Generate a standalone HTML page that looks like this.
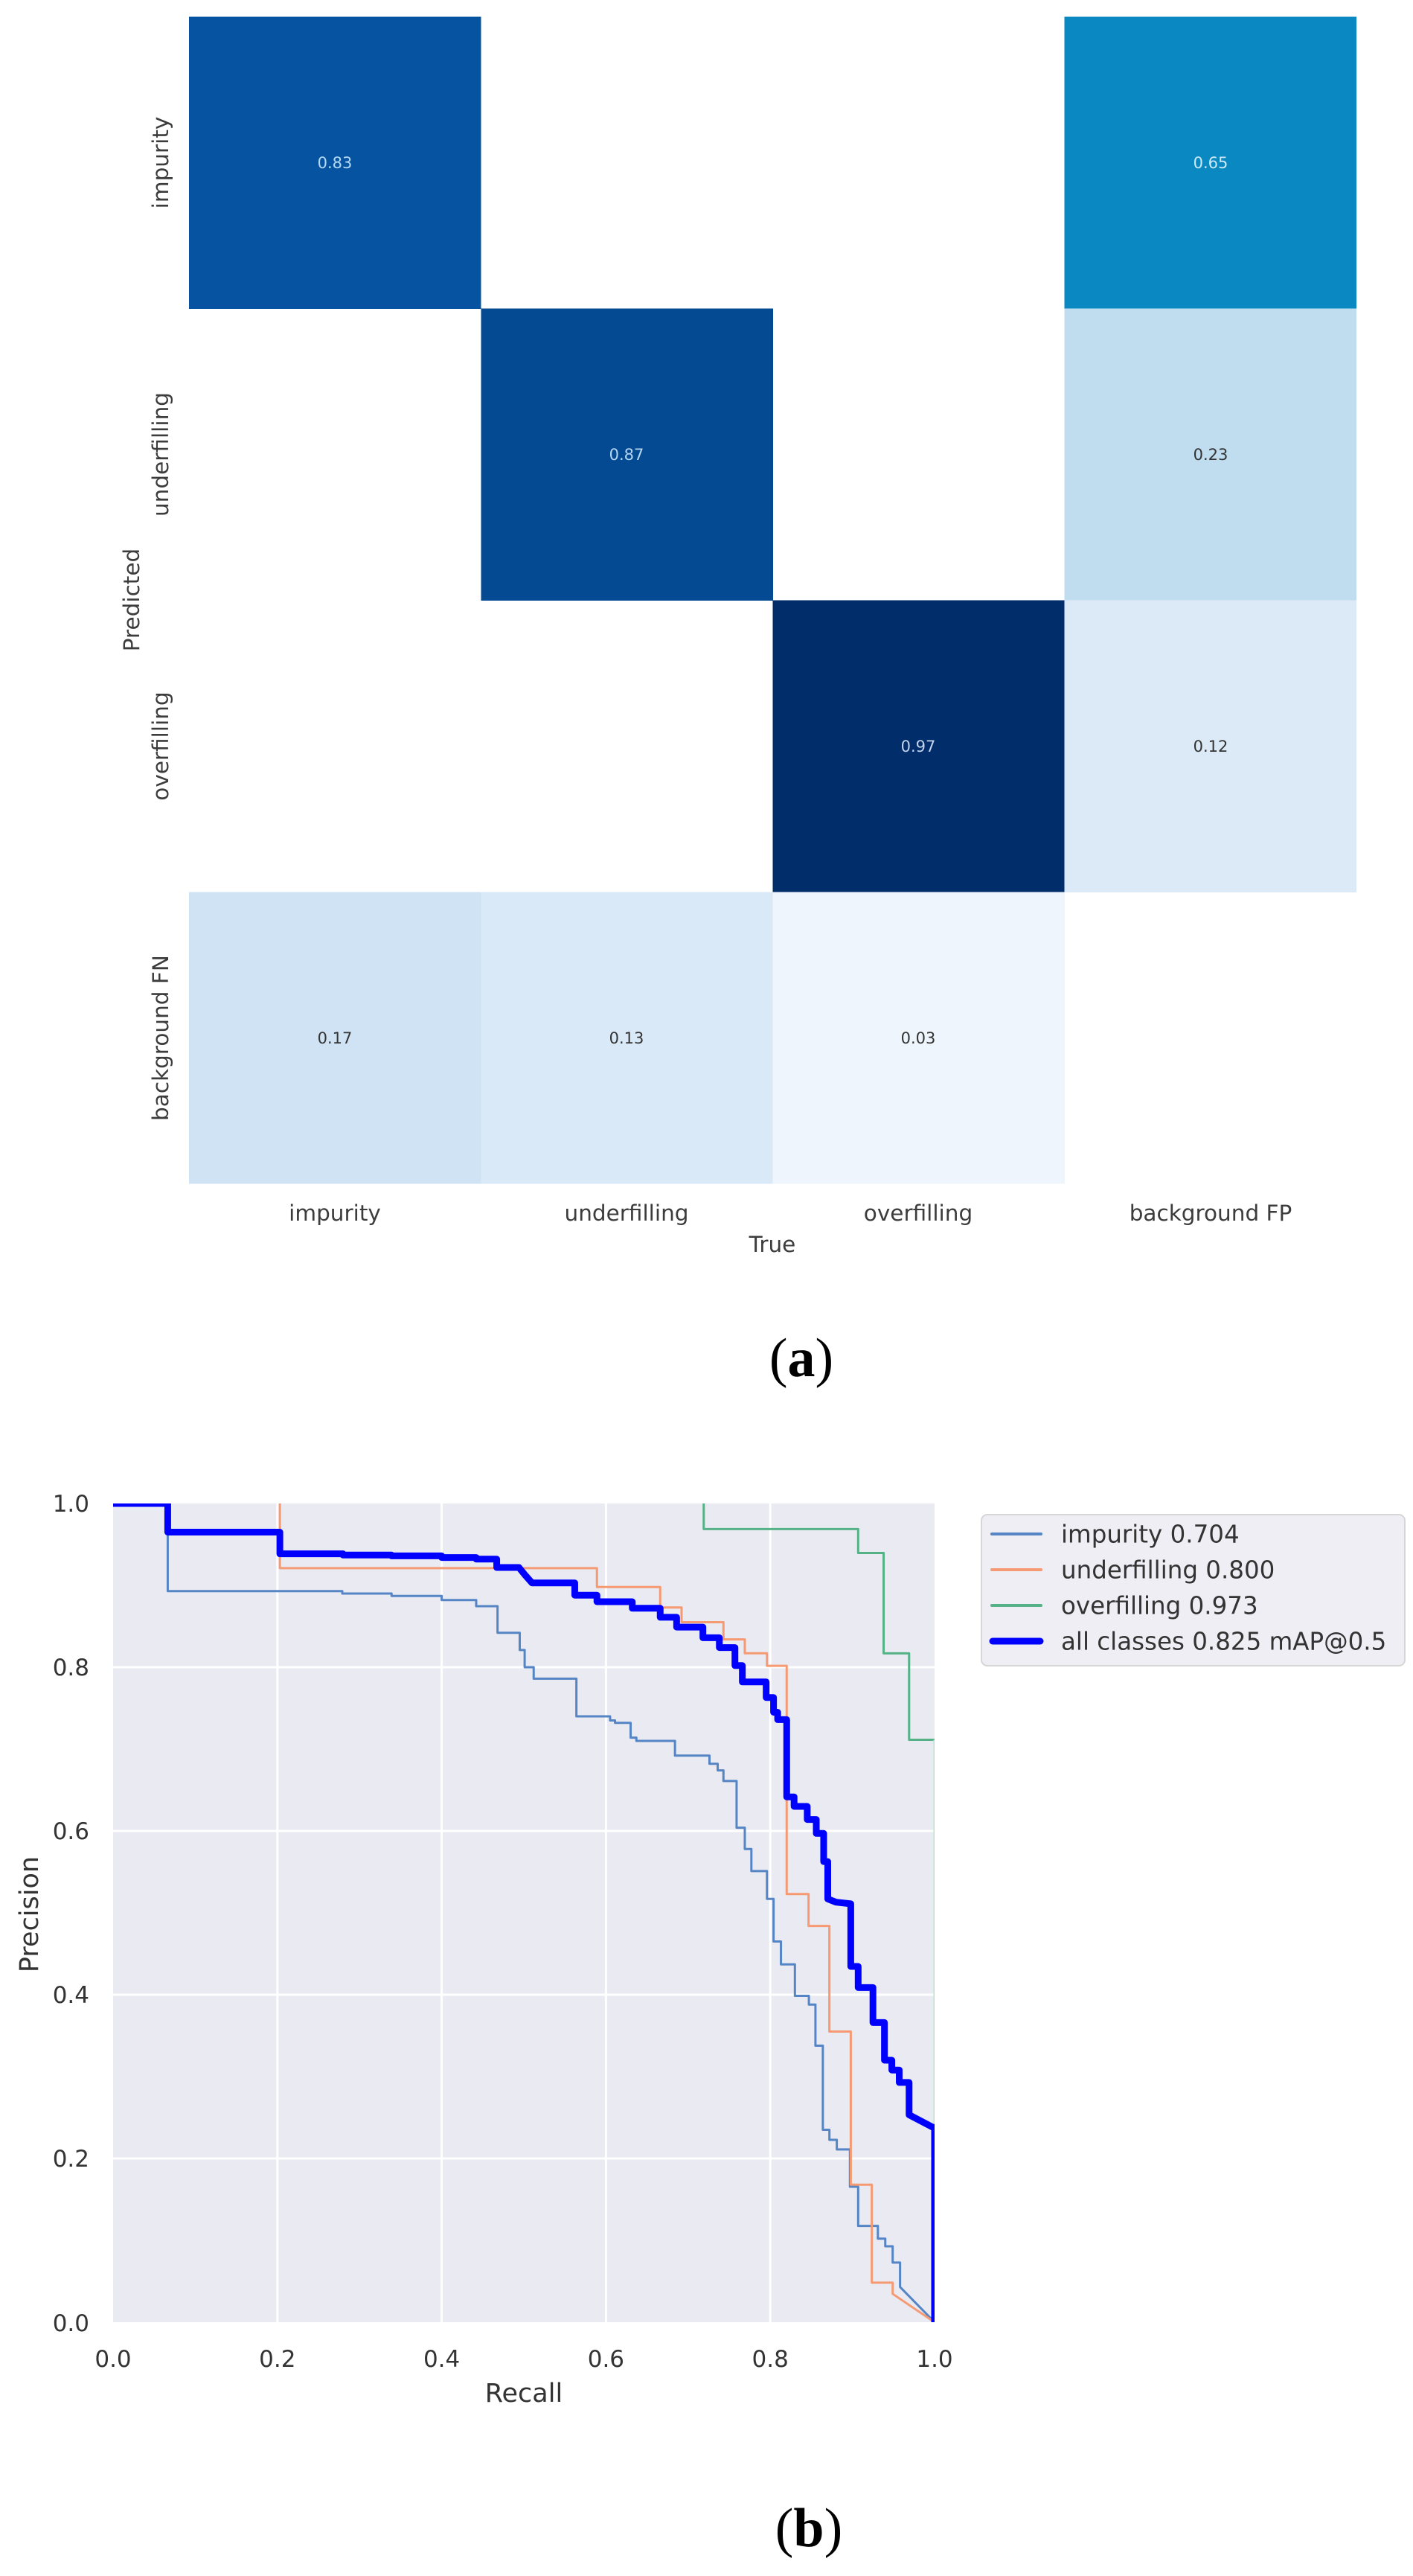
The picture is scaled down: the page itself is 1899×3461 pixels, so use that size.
<!DOCTYPE html>
<html>
<head>
<meta charset="utf-8">
<style>
html,body{margin:0;padding:0;background:#fff;}
svg{display:block;}
text{font-family:"DejaVu Sans","Liberation Sans",sans-serif;}
</style>
</head>
<body>
<svg width="1899" height="3461" viewBox="0 0 1899 3461" xmlns="http://www.w3.org/2000/svg">
<rect x="0" y="0" width="1899" height="3461" fill="#ffffff"/>

<!-- ===== (a) Confusion matrix ===== -->
<g>
  <!-- row 0 -->
  <rect x="254" y="22.5" width="392.5" height="392.5" fill="#0653a2"/>
  <rect x="1430.5" y="22.5" width="392.5" height="392.5" fill="#0a88c1"/>
  <!-- row 1 -->
  <rect x="646.5" y="414.5" width="392.5" height="392.5" fill="#034a93"/>
  <rect x="1430.5" y="414.5" width="392.5" height="392.5" fill="#c0ddf0"/>
  <!-- row 2 -->
  <rect x="1038.5" y="806.5" width="392.5" height="392.5" fill="#022d6b"/>
  <rect x="1430.5" y="806.5" width="392.5" height="392.5" fill="#dce9f7"/>
  <!-- row 3 -->
  <rect x="254" y="1198.5" width="392.5" height="392" fill="#cfe3f4"/>
  <rect x="646.5" y="1198.5" width="392.5" height="392" fill="#d9e9f7"/>
  <rect x="1038.5" y="1198.5" width="392.5" height="392" fill="#eef5fd"/>

  <g font-size="21" text-anchor="middle">
    <text x="450" y="226" fill="#b4daf4">0.83</text>
    <text x="1627" y="226" fill="#cde9f7">0.65</text>
    <text x="842" y="618" fill="#b4d6f2">0.87</text>
    <text x="1627" y="618" fill="#333">0.23</text>
    <text x="1234" y="1010" fill="#c2d4ee">0.97</text>
    <text x="1627" y="1010" fill="#333">0.12</text>
    <text x="450" y="1402" fill="#333">0.17</text>
    <text x="842" y="1402" fill="#333">0.13</text>
    <text x="1234" y="1402" fill="#333">0.03</text>
  </g>

  <g font-size="29.5" fill="#3c3c3c" text-anchor="middle">
    <text x="450" y="1640">impurity</text>
    <text x="842" y="1640">underfilling</text>
    <text x="1234" y="1640">overfilling</text>
    <text x="1627" y="1640">background FP</text>
    <text x="1038" y="1682">True</text>
    <text transform="translate(226,218.5) rotate(-90)">impurity</text>
    <text transform="translate(226,610.5) rotate(-90)">underfilling</text>
    <text transform="translate(226,1002.5) rotate(-90)">overfilling</text>
    <text transform="translate(226,1394.5) rotate(-90)">background FN</text>
    <text transform="translate(187,806) rotate(-90)">Predicted</text>
  </g>
</g>

<!-- (a) caption -->
<text x="1077" y="1849" text-anchor="middle" font-size="74" fill="#000" style="font-family:'Liberation Serif',serif;">(<tspan font-weight="bold">a</tspan>)</text>

<!-- ===== (b) PR curve ===== -->
<g>
  <rect x="152" y="2020" width="1104" height="1100" fill="#eaeaf2"/>
  <!-- grid -->
  <g stroke="#ffffff" stroke-width="3">
    <line x1="372.8" y1="2020" x2="372.8" y2="3120"/>
    <line x1="593.6" y1="2020" x2="593.6" y2="3120"/>
    <line x1="814.4" y1="2020" x2="814.4" y2="3120"/>
    <line x1="1035.2" y1="2020" x2="1035.2" y2="3120"/>
    <line x1="152" y1="2240" x2="1256" y2="2240"/>
    <line x1="152" y1="2460" x2="1256" y2="2460"/>
    <line x1="152" y1="2680" x2="1256" y2="2680"/>
    <line x1="152" y1="2900" x2="1256" y2="2900"/>
  </g>

  <defs>
    <clipPath id="ax"><rect x="152" y="2020" width="1104" height="1100"/></clipPath>
  </defs>

  <g clip-path="url(#ax)">
    <g transform="translate(152,3120) scale(1104,-1100)" fill="none" stroke-linejoin="round">
      <!-- impurity -->
      <polyline vector-effect="non-scaling-stroke" stroke="#5585c4" stroke-width="3"
        points="0,1 0.0665,1 0.0665,0.893 0.279,0.893 0.279,0.890 0.339,0.890 0.339,0.887 0.400,0.887 0.400,0.882 0.442,0.882 0.442,0.8745 0.468,0.8745 0.468,0.842 0.495,0.842 0.495,0.821 0.501,0.821 0.501,0.800 0.512,0.800 0.512,0.786 0.564,0.786 0.564,0.740 0.605,0.740 0.605,0.735 0.611,0.735 0.611,0.732 0.630,0.732 0.630,0.714 0.637,0.714 0.637,0.710 0.684,0.710 0.684,0.692 0.726,0.692 0.726,0.682 0.736,0.682 0.736,0.674 0.743,0.674 0.743,0.661 0.759,0.661 0.759,0.604 0.769,0.604 0.769,0.578 0.777,0.578 0.777,0.551 0.796,0.551 0.796,0.517 0.804,0.517 0.804,0.465 0.813,0.465 0.813,0.437 0.830,0.437 0.830,0.3986 0.847,0.3986 0.847,0.388 0.855,0.388 0.855,0.3377 0.864,0.3377 0.864,0.235 0.872,0.235 0.872,0.2227 0.881,0.2227 0.881,0.211 0.897,0.211 0.897,0.1655 0.907,0.1655 0.907,0.1176 0.931,0.1176 0.931,0.102 0.940,0.102 0.940,0.0927 0.949,0.0927 0.949,0.0728 0.958,0.0728 0.958,0.043 1,0"/>
      <!-- underfilling -->
      <polyline vector-effect="non-scaling-stroke" stroke="#f59a72" stroke-width="3"
        points="0.203,1 0.203,0.921 0.589,0.921 0.589,0.898 0.666,0.898 0.666,0.873 0.692,0.873 0.692,0.855 0.743,0.855 0.743,0.834 0.769,0.834 0.769,0.817 0.796,0.817 0.796,0.8017 0.820,0.8017 0.820,0.523 0.8466,0.523 0.8466,0.484 0.872,0.484 0.872,0.355 0.898,0.355 0.898,0.168 0.9236,0.168 0.9236,0.0483 0.949,0.0483 0.949,0.0346 1,0"/>
      <!-- overfilling -->
      <polyline vector-effect="non-scaling-stroke" stroke="#55b286" stroke-width="3"
        points="0.719,1 0.719,0.9688 0.907,0.9688 0.907,0.9396 0.938,0.9396 0.938,0.8169 0.969,0.8169 0.969,0.7114 1.0,0.7114"/>
      <polyline vector-effect="non-scaling-stroke" stroke="#b7e2cc" stroke-width="3"
        points="1.0,0.7114 1.0,0"/>
      <!-- all classes -->
      <polyline vector-effect="non-scaling-stroke" stroke="#0000ff" stroke-width="9" stroke-linecap="square"
        points="0,1 0.0665,1 0.0665,0.965 0.203,0.965 0.203,0.9385 0.28,0.9385 0.28,0.937 0.339,0.937 0.339,0.936 0.40,0.936 0.40,0.934 0.442,0.934 0.442,0.932 0.467,0.932 0.467,0.9218 0.494,0.9218 0.502,0.912 0.510,0.903 0.562,0.903 0.562,0.888 0.589,0.888 0.589,0.880 0.632,0.880 0.632,0.872 0.666,0.872 0.666,0.861 0.686,0.861 0.686,0.849 0.718,0.849 0.718,0.836 0.738,0.836 0.738,0.824 0.757,0.824 0.757,0.802 0.766,0.802 0.766,0.782 0.795,0.782 0.795,0.763 0.804,0.763 0.804,0.745 0.809,0.745 0.809,0.736 0.820,0.736 0.820,0.6416 0.829,0.6416 0.829,0.630 0.845,0.630 0.845,0.614 0.856,0.614 0.856,0.597 0.865,0.597 0.865,0.5626 0.870,0.5626 0.870,0.517 0.88,0.513 0.898,0.511 0.898,0.4345 0.907,0.4345 0.907,0.4088 0.925,0.4088 0.925,0.366 0.939,0.366 0.939,0.32 0.948,0.32 0.948,0.308 0.957,0.308 0.957,0.2928 0.969,0.2928 0.969,0.2533 0.998,0.238 1.0,0.238 1.0,0"/>
    </g>
  </g>

  <!-- tick labels -->
  <g font-size="31" fill="#333" text-anchor="end">
    <text x="120" y="2031">1.0</text>
    <text x="120" y="2251">0.8</text>
    <text x="120" y="2471">0.6</text>
    <text x="120" y="2691">0.4</text>
    <text x="120" y="2911">0.2</text>
    <text x="120" y="3132">0.0</text>
  </g>
  <g font-size="31" fill="#333" text-anchor="middle">
    <text x="152" y="3180">0.0</text>
    <text x="372.8" y="3180">0.2</text>
    <text x="593.6" y="3180">0.4</text>
    <text x="814.4" y="3180">0.6</text>
    <text x="1035.2" y="3180">0.8</text>
    <text x="1256" y="3180">1.0</text>
  </g>
  <g font-size="35" fill="#333" text-anchor="middle">
    <text x="704" y="3227">Recall</text>
    <text transform="translate(51,2572) rotate(-90)">Precision</text>
  </g>

  <!-- legend -->
  <rect x="1319" y="2035" width="569" height="203" rx="8" ry="8" fill="#eeeef4" stroke="#d6d6d6" stroke-width="2"/>
  <g stroke-linecap="round">
    <line x1="1333" y1="2061" x2="1399" y2="2061" stroke="#5585c4" stroke-width="4"/>
    <line x1="1333" y1="2109" x2="1399" y2="2109" stroke="#f59a72" stroke-width="4"/>
    <line x1="1333" y1="2157" x2="1399" y2="2157" stroke="#55b286" stroke-width="4"/>
    <line x1="1334" y1="2205" x2="1398" y2="2205" stroke="#0000ff" stroke-width="9"/>
  </g>
  <g font-size="32.5" fill="#333">
    <text x="1426" y="2072.5">impurity 0.704</text>
    <text x="1426" y="2120.5">underfilling 0.800</text>
    <text x="1426" y="2168.5">overfilling 0.973</text>
    <text x="1426" y="2216.5">all classes 0.825 mAP@0.5</text>
  </g>
</g>

<!-- (b) caption -->
<text x="1087" y="3421" text-anchor="middle" font-size="74" fill="#000" style="font-family:'Liberation Serif',serif;">(<tspan font-weight="bold">b</tspan>)</text>

</svg>
</body>
</html>
